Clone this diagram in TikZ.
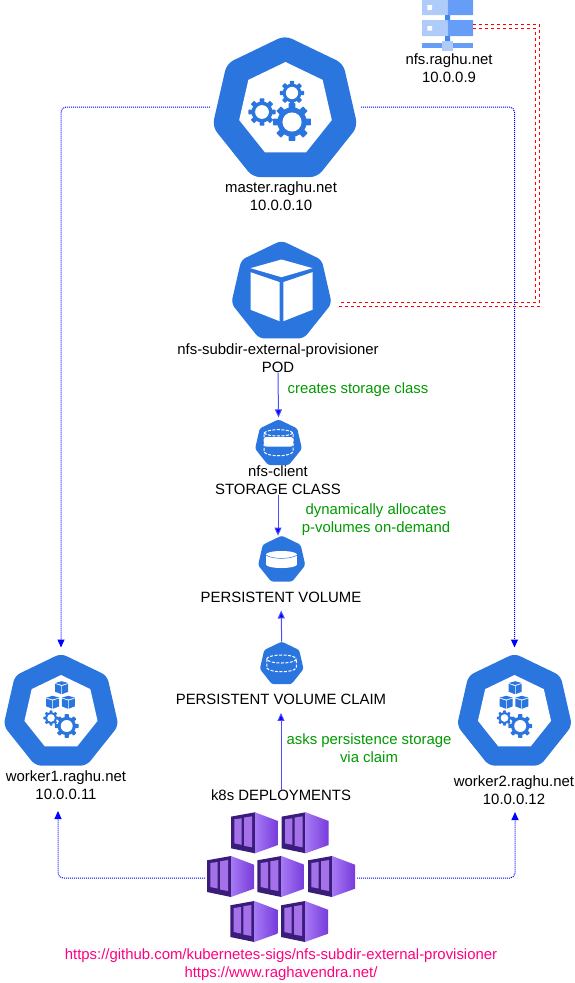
\documentclass[tikz,border=0pt]{standalone}
\usepackage{fontspec}
\setmainfont{Liberation Sans}
\usetikzlibrary{arrows.meta,positioning,shapes.geometric}
\definecolor{k8sblue}{HTML}{2B75DF}
\definecolor{svrlight}{HTML}{AECBFA}
\definecolor{svrmid}{HTML}{669DF6}
\definecolor{svrdark}{HTML}{4285F4}
\definecolor{boxdark}{HTML}{3A1C7A}
\definecolor{boxpanel}{HTML}{A571E8}
\definecolor{boxleft}{HTML}{A67AF4}
\definecolor{boxright}{HTML}{773ADC}
\definecolor{notegreen}{HTML}{009900}
\definecolor{urlpink}{HTML}{FF0080}
\tikzset{
  hept/.style={regular polygon, regular polygon sides=7, minimum size=#1, inner sep=0pt, outer sep=0pt, fill=k8sblue, rounded corners=#1*0.05},
  heptin/.style={regular polygon, regular polygon sides=7, minimum size=#1, inner sep=0pt, outer sep=0pt, fill=white},
  hitbox/.style={inner sep=0pt, outer sep=0pt},
  lbl/.style={align=center, inner sep=0pt, font=\fontsize{14.9}{18}\selectfont},
  note/.style={lbl, text=notegreen},
  urls/.style={lbl, text=urlpink},
  link/.style={blue, line width=1pt, dash pattern=on 1pt off 1pt, rounded corners=5pt, -{Triangle[width=7pt,length=8pt]}},
  flow/.style={blue!70, line width=1pt, -{Triangle[width=7pt,length=8pt,fill=blue]}},
  nfslink/.style={red, line width=1pt, dash pattern=on 3pt off 3pt},
  volline/.style={white, line width=1pt, dash pattern=on 3pt off 1.5pt},
  gear/.pic={
    \fill[k8sblue] (0,0) circle (7.5);
    \foreach \a in {0,45,...,315}
      \fill[k8sblue, rotate=\a, rounded corners=.5] (-1.7,6) rectangle (1.7,9.7);
    \fill[white] (0,0) circle (4.9);
  },
  cube/.pic={
    \fill[pic actions] (0,-1) -- (1,-.72) -- (0,-.43) -- (-1,-.72) -- cycle;
    \fill[pic actions] (-1,-.59) -- (-.06,-.27) -- (-.06,.99) -- (-1,.62) -- cycle;
    \fill[pic actions] (1,-.59) -- (.06,-.27) -- (.06,.99) -- (1,.62) -- cycle;
  },
  workerhead/.pic={
    \pic[fill=k8sblue, scale=6.5] at (.7,-26) {cube};
    \pic[fill=k8sblue, scale=6.5] at (-8.3,-11.4) {cube};
    \pic[fill=k8sblue, scale=6.5] at (7.3,-11.4) {cube};
    \pic[scale=.78] at (-10,4.3) {gear};
    \pic[scale=1.22] at (5.7,12.3) {gear};
  },
  container/.pic={
    \fill[boxdark] (0,4.3) -- (24,0) -- (24,41) -- (0,36) -- cycle;
    \shade[left color=boxleft, right color=boxright] (24,0) -- (47,8.7) -- (47,32.7) -- (24,41) -- cycle;
    \fill[boxpanel] (3.3,7) -- (10.7,6) -- (10.7,32.5) -- (3.3,31) -- cycle;
    \fill[boxpanel] (13,5.3) -- (21,4) -- (21,35) -- (13,33.5) -- cycle;
  }
}
\begin{document}
\begin{tikzpicture}[x=1pt,y=-1pt]
\useasboundingbox (0,0) rectangle (575,983);
% nfs server
\node[hitbox, minimum width=51pt, minimum height=50pt] (nfs) at (447.5,25) {};
\fill[svrlight] (422,0) rectangle (447.5,15) (422,20) rectangle (447.5,36);
\fill[svrmid] (447.5,0) rectangle (473,15) (447.5,20) rectangle (473,36);
\fill[svrdark] (445,15) rectangle (450,20) (445,36) rectangle (450,43);
\fill[svrmid] (422,43.3) rectangle (473,48.3);
\fill[svrlight] (442.3,40.7) rectangle (452.7,50.7);
\fill[white] (427.3,5) rectangle (432,10) (427.3,26) rectangle (432,30.7);
\node[lbl] (nfslbl) at (449,68) {nfs.raghu.net\\10.0.0.9};
% master
\node[hitbox, minimum width=151pt, minimum height=138pt] (masterbox) at (285.5,107) {};
\node[hept=149pt] (master) at (285,110) {};
\node[heptin=95pt] (masterin) at (285.5,109.5) {};
\pic[scale=1.4] at (262,112) {gear};
\pic[scale=1.25] at (292,93) {gear};
\pic[scale=1.95] at (292,122) {gear};
\node[lbl] (masterlbl) at (281,196) {master.raghu.net\\10.0.0.10};
% pod
\node[hept=103pt] (pod) at (281.5,292) {};
\pic[fill=white, scale=31] at (281.5,290.5) {cube};
\node[lbl] (podlbl) at (278,358) {nfs-subdir-external-provisioner\\POD};
\node[note] (createsnote) at (358,389.5) {creates storage class};
% storage class
\node[hept=48pt] (sclass) at (278.5,443.4) {};
\draw[volline] (264,433) .. controls (268,428.5) and (289,428.5) .. (293,433) -- (293,452) .. controls (289,457) and (268,457) .. (264,452) -- cycle;
\draw[volline] (264,433) .. controls (268,437) and (289,437) .. (293,433);
\fill[white, rounded corners=2pt] (264,437) rectangle (293,446.5);
\node[lbl] (sclbl) at (278,480) {nfs-client\\STORAGE CLASS};
\node[note] (allocnote) at (376,519.5) {dynamically allocates\\p-volumes on-demand};
% persistent volume
\node[hept=48.4pt] (pv) at (281.7,559.8) {};
\fill[white] (281.5,554.5) ellipse (15.5 and 3.5);
\fill[white] (281.5,564.5) ellipse (15.5 and 3.5);
\fill[white] (266,554.5) rectangle (297,564.5);
\draw[k8sblue, line width=.5pt] (266,555) .. controls (272,559.5) and (291,559.5) .. (297,555);
\node[lbl] (pvlbl) at (281,597) {PERSISTENT VOLUME};
% claim
\node[hept=44.8pt] (pvc) at (281.7,664) {};
\draw[volline] (281.5,659) ellipse (14.7 and 4);
\draw[volline] (266.8,659) -- (266.8,668) .. controls (270,673) and (293,673) .. (296.3,668) -- (296.3,659);
\node[lbl] (pvclbl) at (281,699.5) {PERSISTENT VOLUME CLAIM};
\node[note] (claimnote) at (369,748.5) {asks persistence storage\\via claim};
% workers
\node[hept=118pt] (worker1) at (61,712.5) {};
\node[heptin=75pt] (worker1in) at (61,712.5) {};
\pic at (61,713.7) {workerhead};
\node[lbl] (worker1lbl) at (66,785) {worker1.raghu.net\\10.0.0.11};
\node[hept=118pt] (worker2) at (514.5,712.5) {};
\node[heptin=75pt] (worker2in) at (514.5,712.5) {};
\pic at (514.5,713.7) {workerhead};
\node[lbl] (worker2lbl) at (514,790) {worker2.raghu.net\\10.0.0.12};
% deployments
\node[lbl] (deplbl) at (281,795.5) {k8s DEPLOYMENTS};
\node[hitbox, minimum width=152pt, minimum height=132pt] (deploy) at (281,878) {};
\foreach \bx/\by in {231/812.3,281.7/812.3,207/856,257.3/856,308/856,230.3/901,281/901}
  \pic at (\bx,\by) {container};
\node[urls] (urlslbl) at (281,964.5) {https://github.com/kubernetes-sigs/nfs-subdir-external-provisioner\\https://www.raghavendra.net/};
% connectors
\coordinate (railin) at (535.5,150);
\coordinate (railout) at (539.5,150);
\coordinate (w1in) at (58,811);
\coordinate (w2in) at (515,812);
\draw[link] (masterbox.west) -| ([yshift=6pt]worker1.north);
\draw[link] (masterbox.east) -| ([yshift=6pt]worker2.north);
\draw[link] (deploy.west) -| (w1in);
\draw[link] (deploy.east) -| (w2in);
\draw[nfslink] ([yshift=1pt]nfs.east) -| (railout) |- ([shift={(10pt,-14pt)}]pod.east);
\draw[nfslink] ([yshift=-3pt]nfs.east) -| (railin) |- ([shift={(10pt,-10pt)}]pod.east);
\draw[flow] (podlbl.south) -- ([yshift=2pt]sclass.north);
\draw[flow] (sclbl.south) -- (sclbl.south |- pv.north);
\draw[flow, shorten >=8pt] (pvc.north) -- (pvlbl.south);
\draw[flow, shorten >=8pt] (deplbl.north) -- (pvclbl.south);
\end{tikzpicture}
\end{document}
